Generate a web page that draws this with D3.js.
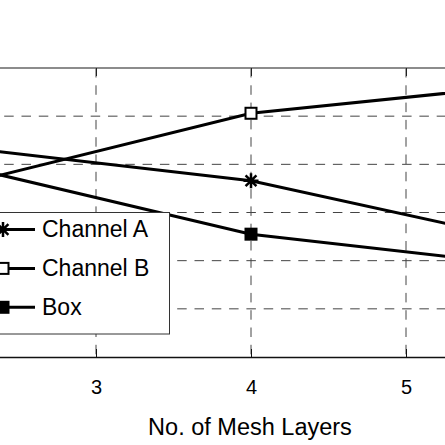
<!DOCTYPE html>
<html>
<head>
<meta charset="utf-8">
<script src="https://cdn.jsdelivr.net/npm/d3@7"></script>
<style>
  html, body { margin: 0; padding: 0; background: #fff; }
  svg { display: block; font-family: "Liberation Sans", Arial, sans-serif; }
</style>
</head>
<body>
<div id="chart"></div>
<script>
// mesh layer counts and the three series (y units follow the grid spacing)
const meshLayers = [2, 4, 6];
const channelA = [4.40, 3.66, 2.25];
const channelB = [3.47, 5.06, 5.72];
const boxSeries = [4.07, 2.55, 1.82];
const xTicks = [3, 4, 5];
const yTicks = [1, 2, 3, 4, 5];
const seriesNames = ["Channel A", "Channel B", "Box"];
const markerKinds = ["asterisk", "openSquare", "filledSquare"];

const width = 445, height = 445;
// plot box extends past the left and right edges of the picture
const plot = { left: -59, right: 561, top: 68, bottom: 357 };

const svg = d3.select("#chart").append("svg")
    .attr("width", width).attr("height", height)
    .attr("viewBox", `0 0 ${width} ${height}`);

const x = d3.scaleLinear().domain([2, 6]).range([plot.left, plot.right]);
const y = d3.scaleLinear().domain([0, 6]).range([plot.bottom, plot.top]);

svg.append("defs").append("clipPath").attr("id", "plotClip")
    .append("rect")
    .attr("x", plot.left).attr("y", plot.top)
    .attr("width", plot.right - plot.left).attr("height", plot.bottom - plot.top);

// dashed grid
const grid = svg.append("g").attr("stroke", "#444").attr("stroke-width", 1)
    .attr("stroke-dasharray", "9.5,7.8");
grid.selectAll(".vgrid").data(xTicks).enter().append("line")
    .attr("x1", d => x(d)).attr("x2", d => x(d))
    .attr("y1", plot.top).attr("y2", plot.bottom);
grid.selectAll(".hgrid").data(yTicks).enter().append("line")
    .attr("x1", plot.left).attr("x2", plot.right)
    .attr("y1", d => y(d)).attr("y2", d => y(d))
    .attr("stroke-dashoffset", 6);

// axes
svg.append("line").attr("x1", plot.left).attr("x2", plot.right)
    .attr("y1", plot.top).attr("y2", plot.top)
    .attr("stroke", "#666").attr("stroke-width", 1.5);
svg.append("g").attr("transform", `translate(0,${plot.top})`)
    .call(d3.axisTop(x).tickValues(xTicks).tickSizeInner(-8).tickSizeOuter(0).tickFormat(""))
    .call(g => g.select(".domain").remove())
    .selectAll("line").attr("stroke", "#222");

const xAxis = svg.append("g").attr("transform", `translate(0,${plot.bottom})`)
    .call(d3.axisBottom(x).tickValues(xTicks).tickSizeInner(-8).tickSizeOuter(0).tickFormat(d3.format("d")));
xAxis.select(".domain").attr("stroke", "#111").attr("stroke-width", 1.3);
xAxis.selectAll("line").attr("stroke", "#111");
xAxis.selectAll("text").attr("y", 37).attr("dy", 0)
    .attr("font-size", 20).attr("fill", "#000")
    .attr("font-family", "Liberation Sans, Arial, sans-serif");

svg.append("text")
    .attr("x", 250).attr("y", 435)
    .attr("text-anchor", "middle")
    .attr("font-size", 23.5).attr("fill", "#000")
    .text("No. of Mesh Layers");

// marker drawing
function drawMarker(sel, kind) {
    if (kind === "asterisk") {
        const r = 7.5, d = r * 0.72;
        sel.append("path")
            .attr("d", `M${-r},0L${r},0M0,${-r}L0,${r}M${-d},${-d}L${d},${d}M${-d},${d}L${d},${-d}`)
            .attr("stroke", "#000").attr("stroke-width", 2.5).attr("fill", "none");
    } else {
        const s = 11;
        sel.append("rect")
            .attr("x", -s / 2).attr("y", -s / 2).attr("width", s).attr("height", s)
            .attr("fill", kind === "filledSquare" ? "#000" : "#fff")
            .attr("stroke", "#000").attr("stroke-width", 2);
    }
}

const allSeries = [channelA, channelB, boxSeries];
const line = d3.line().x((d, i) => x(meshLayers[i])).y(d => y(d));
const plotArea = svg.append("g").attr("clip-path", "url(#plotClip)");

allSeries.forEach((vals, k) => {
    plotArea.append("path").datum(vals)
        .attr("fill", "none").attr("stroke", "#000").attr("stroke-width", 3)
        .attr("d", line);
});
allSeries.forEach((vals, k) => {
    vals.forEach((v, i) => {
        const g = plotArea.append("g").attr("transform", `translate(${x(meshLayers[i])},${y(v)})`);
        drawMarker(g, markerKinds[k]);
    });
});

// legend
const legend = svg.append("g");
legend.append("rect")
    .attr("x", -60).attr("y", 212.5).attr("width", 229.5).attr("height", 121.5)
    .attr("fill", "#fff").attr("stroke", "#333").attr("stroke-width", 1);
seriesNames.forEach((name, k) => {
    const base = 237.3 + k * 38.9;
    const cy = base - 7.8;
    legend.append("line").attr("x1", -27).attr("x2", 35).attr("y1", cy).attr("y2", cy)
        .attr("stroke", "#000").attr("stroke-width", 3);
    drawMarker(legend.append("g").attr("transform", `translate(3,${cy})`), markerKinds[k]);
    legend.append("text").attr("x", 42).attr("y", base)
        .attr("font-size", 23).attr("fill", "#000").text(name);
});
</script>
</body>
</html>
